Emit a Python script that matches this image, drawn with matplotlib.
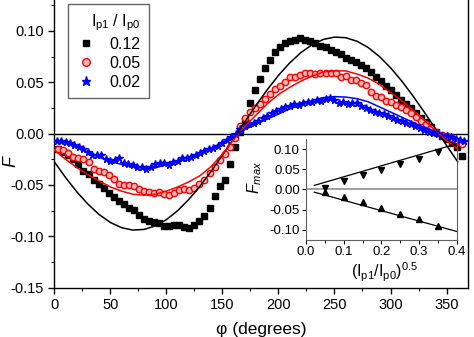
import numpy as np
import matplotlib
matplotlib.use("Agg")
import matplotlib.pyplot as plt
from matplotlib.ticker import MultipleLocator, FormatStrFormatter

plt.rcParams['font.family'] = ['Liberation Sans', 'DejaVu Sans']
plt.rcParams['mathtext.fontset'] = 'custom'
plt.rcParams['mathtext.rm'] = 'Liberation Sans'
plt.rcParams['mathtext.it'] = 'Liberation Sans:italic'
plt.rcParams['mathtext.bf'] = 'Liberation Sans:bold'

# ---- measured F(phi) for three intensity ratios ----
phi_sq = [3.5, 8, 12.5, 17, 21.5, 26, 30.5, 35, 39.5, 44, 48.5, 53, 57.5, 62, 66.5, 71,
          75.5, 80, 84.5, 89, 93.5, 98, 102.5, 107, 111.5, 116, 120.5, 125, 129.5, 134,
          138.5, 143, 147.5, 152, 156.5, 161, 165.5, 170, 174.5, 179, 183.5, 188, 192.5,
          197, 201.5, 206, 210.5, 215, 219.5, 224, 228.5, 233, 237.5, 242, 246.5, 251,
          255.5, 260, 264.5, 269, 273.5, 278, 282.5, 287, 291.5, 296, 300.5, 305, 309.5,
          314, 318.5, 323, 327.5, 332, 336.5, 341, 345.5, 350, 354.5, 359, 363.5]
F_012 = [-0.015, -0.018, -0.021, -0.025, -0.030, -0.036, -0.039, -0.045, -0.049, -0.053,
         -0.058, -0.062, -0.066, -0.069, -0.072, -0.074, -0.079, -0.083, -0.085, -0.086,
         -0.087, -0.090, -0.090, -0.089, -0.089, -0.091, -0.092, -0.089, -0.085, -0.080,
         -0.072, -0.061, -0.051, -0.045, -0.030, -0.013, 0.002, 0.012, 0.030, 0.042,
         0.053, 0.064, 0.072, 0.079, 0.084, 0.088, 0.090, 0.091, 0.093, 0.091,
         0.090, 0.088, 0.085, 0.084, 0.081, 0.079, 0.077, 0.074, 0.072, 0.070,
         0.067, 0.064, 0.060, 0.055, 0.051, 0.046, 0.042, 0.038, 0.033, 0.029,
         0.025, 0.020, 0.015, 0.011, 0.006, 0.002, -0.002, -0.005, -0.009, -0.013, -0.022]
F_005 = [-0.015, -0.016, -0.019, -0.023, -0.024, -0.025, -0.028, -0.034, -0.036, -0.037,
         -0.040, -0.044, -0.049, -0.050, -0.050, -0.051, -0.054, -0.056, -0.057, -0.058,
         -0.057, -0.059, -0.060, -0.058, -0.055, -0.054, -0.055, -0.053, -0.049, -0.045,
         -0.038, -0.033, -0.026, -0.020, -0.013, -0.004, 0.007, 0.015, 0.021, 0.025,
         0.029, 0.034, 0.039, 0.043, 0.046, 0.050, 0.055, 0.055, 0.057, 0.059,
         0.059, 0.058, 0.059, 0.059, 0.059, 0.059, 0.055, 0.056, 0.052, 0.052,
         0.049, 0.047, 0.040, 0.037, 0.036, 0.032, 0.031, 0.028, 0.026, 0.023,
         0.020, 0.016, 0.012, 0.009, 0.005, 0.002, -0.001, -0.002, -0.004, -0.007, -0.010]

phi_st = [2, 6, 10, 14, 18, 22, 26, 30, 34, 38, 42, 46, 50, 54, 58, 62, 66, 70, 74, 78,
          82, 86, 90, 94, 98, 102, 106, 110, 114, 118, 122, 126, 130, 134, 138, 142, 146,
          150, 154, 158, 162, 166, 170, 174, 178, 182, 186, 190, 194, 198, 202, 206, 210,
          214, 218, 222, 226, 230, 234, 238, 242, 246, 250, 254, 258, 262, 266, 270, 274,
          278, 282, 286, 290, 294, 298, 302, 306, 310, 314, 318, 322, 326, 330, 334, 338,
          342, 346, 350, 354, 358, 362, 366]
F_002 = [-0.0075, -0.0075, -0.008, -0.009, -0.011, -0.013, -0.015, -0.018, -0.021, -0.0205,
         -0.021, -0.025, -0.027, -0.026, -0.024, -0.029, -0.030, -0.031, -0.0325, -0.0325,
         -0.034, -0.033, -0.030, -0.029, -0.029, -0.031, -0.028, -0.027, -0.024, -0.024,
         -0.023, -0.021, -0.019, -0.017, -0.015, -0.014, -0.012, -0.009, -0.0065, -0.003,
         0.000, 0.004, 0.007, 0.009, 0.010, 0.012, 0.015, 0.017, 0.020, 0.022,
         0.024, 0.026, 0.027, 0.029, 0.028, 0.030, 0.031, 0.031, 0.033, 0.032,
         0.034, 0.035, 0.033, 0.030, 0.031, 0.029, 0.030, 0.030, 0.027, 0.025,
         0.023, 0.021, 0.020, 0.019, 0.017, 0.015, 0.013, 0.012, 0.010, 0.009,
         0.007, 0.005, 0.003, 0.002, 0.001, 0.000, -0.002, -0.002, -0.003, -0.005,
         -0.006, -0.007]

# ---- fitted curves ----
phi_fit = [0, 10, 20, 30, 40, 50, 60, 70, 80, 90, 100, 110, 120, 130, 140, 150, 160, 170,
           180, 190, 200, 210, 220, 230, 240, 250, 260, 270, 280, 290, 300, 310, 320, 330,
           340, 350, 360]
fit_012 = [-0.0275, -0.0427, -0.0566, -0.0687, -0.0788, -0.0865, -0.0916, -0.0939, -0.0933,
           -0.0899, -0.0838, -0.0751, -0.0641, -0.0512, -0.0367, -0.0211, -0.0049, 0.0115,
           0.0275, 0.0427, 0.0566, 0.0687, 0.0788, 0.0865, 0.0916, 0.0939, 0.0933, 0.0899,
           0.0838, 0.0751, 0.0641, 0.0512, 0.0367, 0.0211, 0.0049, -0.0115, -0.0275]
fit_005 = [-0.016, -0.025, -0.033, -0.040, -0.046, -0.052, -0.056, -0.059, -0.060, -0.059,
           -0.056, -0.052, -0.047, -0.041, -0.032, -0.020, -0.006, 0.007, 0.018, 0.029,
           0.038, 0.045, 0.051, 0.056, 0.060, 0.061, 0.061, 0.058, 0.054, 0.048,
           0.040, 0.032, 0.023, 0.013, 0.003, -0.007, -0.015]
fit_002 = [-0.0065, -0.009, -0.013, -0.018, -0.023, -0.027, -0.030, -0.032, -0.0335, -0.0335,
           -0.030, -0.027, -0.023, -0.019, -0.014, -0.009, -0.003, 0.004, 0.009, 0.014,
           0.019, 0.024, 0.028, 0.032, 0.035, 0.036, 0.0355, 0.034, 0.031, 0.026,
           0.021, 0.016, 0.011, 0.006, 0.002, -0.002, -0.006]

# ---- inset: maximum amplitude vs sqrt of intensity ratio ----
ratio_sqrt = [0.05, 0.10, 0.15, 0.20, 0.25, 0.30, 0.35]
Fmax_pos = [0.004, 0.021, 0.035, 0.047, 0.062, 0.076, 0.092]
Fmax_neg = [-0.0067, -0.018, -0.032, -0.046, -0.060, -0.074, -0.091]
Fmax_err = [0.007, 0, 0, 0, 0, 0, 0]
line_x = [0.022, 0.40]
line_pos = [0.010, 0.113]
line_neg = [-0.0067, -0.104]

legend_labels = ['0.12', '0.05', '0.02']

fig = plt.figure(figsize=(4.74, 3.37), dpi=100)
ax = fig.add_axes([0.1146, 0.1463, 0.8724, 0.8537])

ax.axhline(0, color='black', lw=1.0, zorder=1)

ax.plot(phi_sq, F_012, ls='none', marker='s', ms=3.8, mfc='black', mec='black',
        label=legend_labels[0], zorder=3)
ax.plot(phi_sq, F_005, ls='none', marker='o', ms=4.6, mfc='#ffb4b4', mec='#ff0000',
        mew=1.0, label=legend_labels[1], zorder=3)
ax.plot(phi_st, F_002, ls='none', marker='*', ms=5.5, mfc='#0000ff', mec='#0000ff',
        label=legend_labels[2], zorder=3)

ax.plot(phi_fit, fit_012, color='black', lw=1.1, zorder=4)
ax.plot(phi_fit, fit_005, color='#ff0000', lw=1.1, zorder=4)
ax.plot(phi_fit, fit_002, color='#0000ff', lw=1.1, zorder=4)

ax.set_xlim(0, 369)
ax.set_ylim(-0.15, 0.13)
ax.xaxis.set_major_locator(MultipleLocator(50))
ax.xaxis.set_minor_locator(MultipleLocator(25))
ax.yaxis.set_major_locator(MultipleLocator(0.05))
ax.yaxis.set_minor_locator(MultipleLocator(0.025))
ax.yaxis.set_major_formatter(FormatStrFormatter('%.2f'))
ax.tick_params(which='major', direction='out', length=4, width=1, labelsize=10.5)
ax.tick_params(which='minor', direction='out', length=2.5, width=0.8)
ax.spines['top'].set_visible(False)
for s in ['left', 'bottom', 'right']:
    ax.spines[s].set_linewidth(1.0)

ax.set_xlabel('φ (degrees)', fontsize=12.5)
ax.xaxis.set_label_coords(0.5, -0.12)
ax.set_ylabel('F', fontsize=13, style='italic', rotation=90)
ax.yaxis.set_label_coords(-0.085, 0.44)

leg = ax.legend(title=r'$\mathrm{I_{p1}\ /\ I_{p0}}$', loc='upper left',
                bbox_to_anchor=(0.033, 0.985), borderaxespad=0.0,
                fontsize=11.5, title_fontsize=11.5,
                frameon=True, fancybox=False, edgecolor='#404040', handlelength=1.2,
                handletextpad=0.9, borderpad=0.5, labelspacing=0.25, markerscale=1.2)
leg.get_frame().set_linewidth(1.0)
leg._legend_box.align = 'right'

# inset
ins = fig.add_axes([0.6456, 0.288, 0.318, 0.2997])
ins.set_facecolor('none')
ins.axhline(0, color='#909090', lw=1.2, zorder=1)
ins.plot(line_x, line_pos, color='black', lw=0.9)
ins.plot(line_x, line_neg, color='black', lw=0.9)
ins.errorbar(ratio_sqrt, Fmax_pos, yerr=Fmax_err, ls='none', marker='v', ms=5,
             color='black', elinewidth=1.0, capsize=0)
ins.errorbar(ratio_sqrt, Fmax_neg, yerr=Fmax_err, ls='none', marker='^', ms=5,
             color='black', elinewidth=1.0, capsize=0)
ins.set_xlim(0, 0.4)
ins.set_ylim(-0.125, 0.125)
ins.xaxis.set_major_locator(MultipleLocator(0.1))
ins.xaxis.set_minor_locator(MultipleLocator(0.05))
ins.yaxis.set_major_locator(MultipleLocator(0.05))
ins.yaxis.set_major_formatter(FormatStrFormatter('%.2f'))
ins.xaxis.set_major_formatter(FormatStrFormatter('%.1f'))
ins.tick_params(which='major', direction='out', length=3, width=0.8, labelsize=9.5, pad=1.5)
ins.tick_params(which='minor', direction='out', length=2, width=0.7)
ins.spines['top'].set_visible(False)
for s in ['left', 'bottom', 'right']:
    ins.spines[s].set_linewidth(0.8)
    ins.spines[s].set_color('#606060')
ins.text(-0.34, 0.62, r'$F_{max}$', fontsize=11.5, rotation=90, rotation_mode='anchor',
         ha='center', va='center', transform=ins.transAxes)
ins.text(0.52, -0.32, r'$(\mathrm{I_{p1}/I_{p0}})^{0.5}$', fontsize=11.5,
         ha='center', va='center', transform=ins.transAxes)

fig.savefig('out.png', dpi=100)
